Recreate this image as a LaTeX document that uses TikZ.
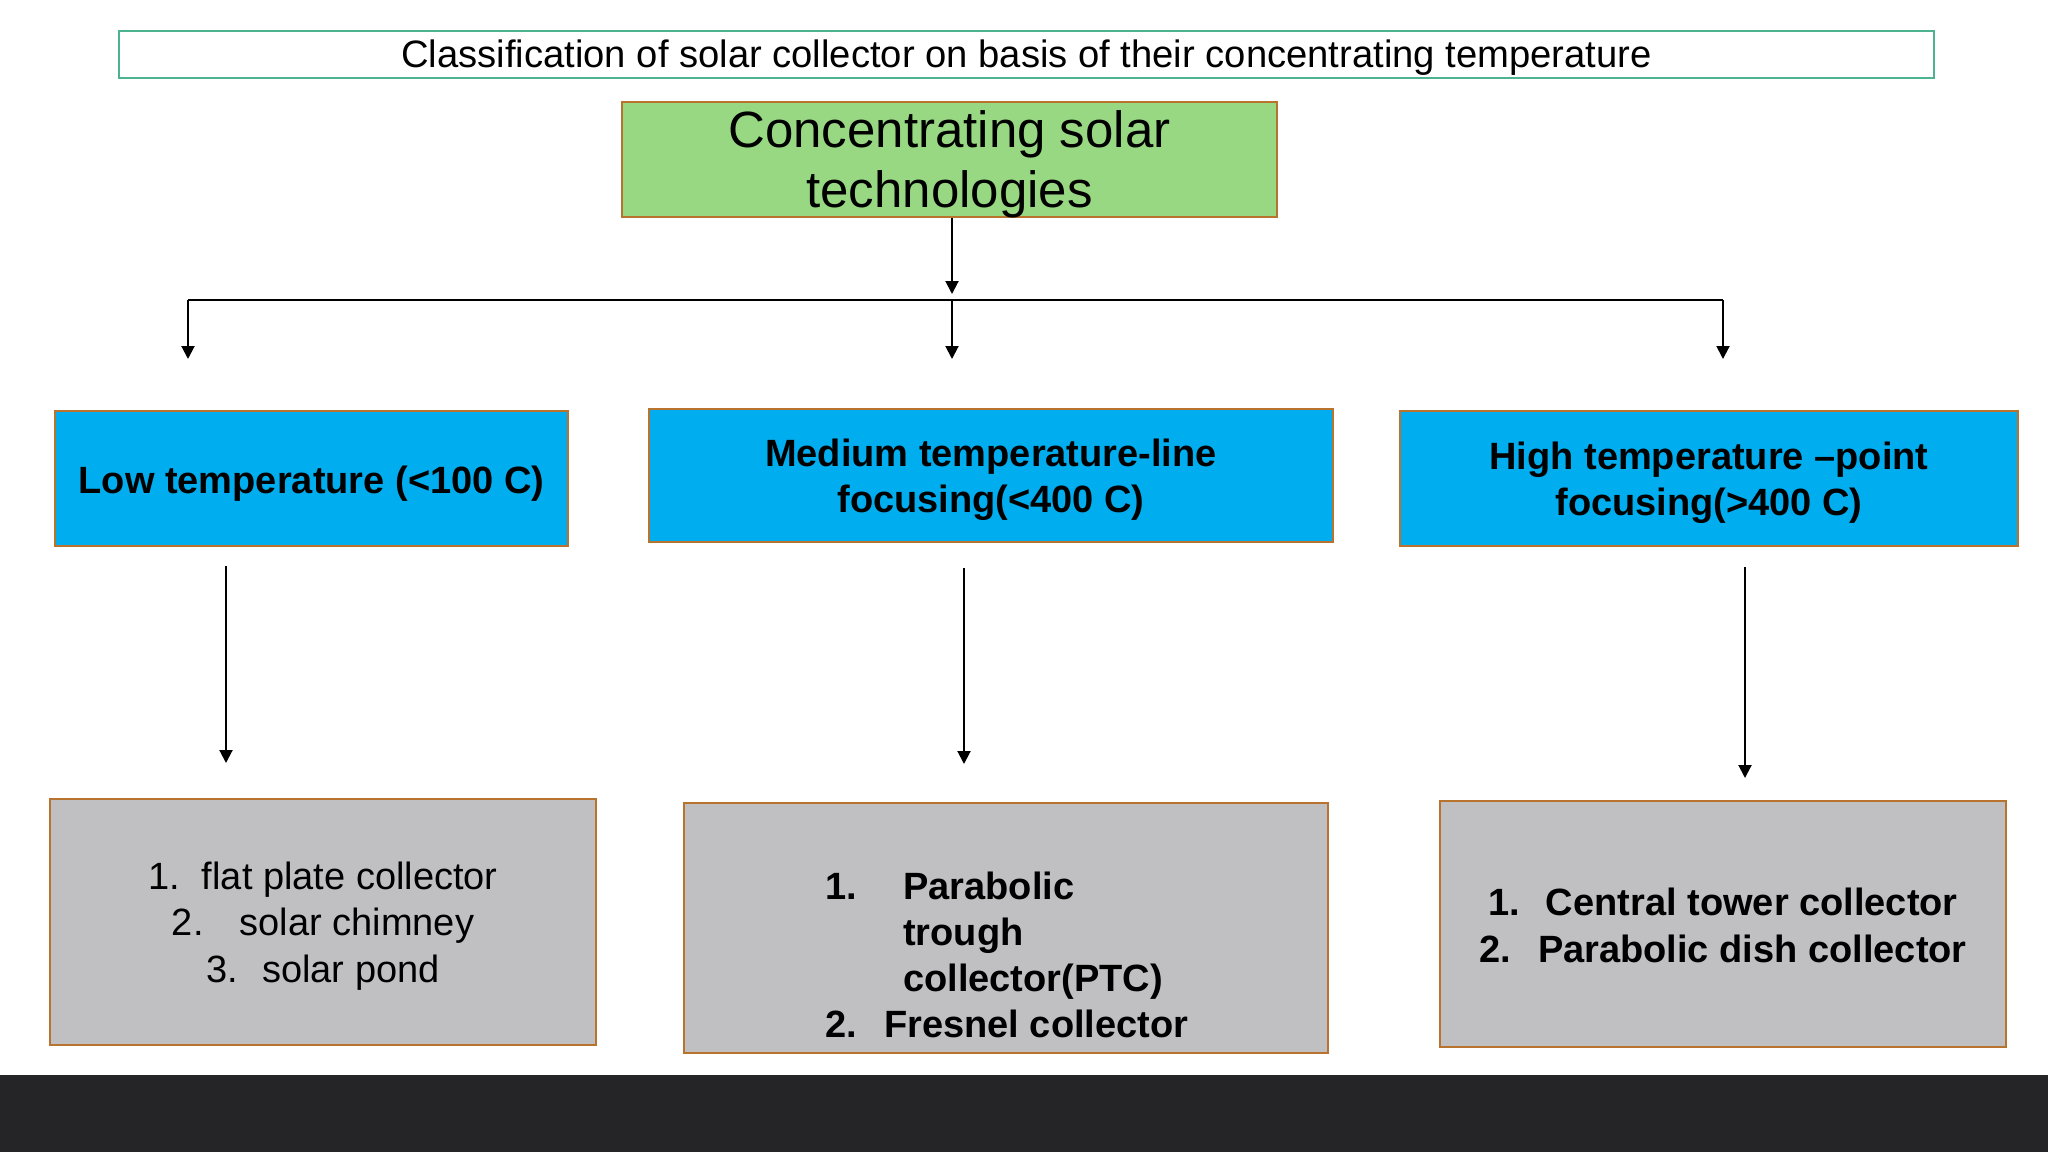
\documentclass[tikz,border=0pt]{standalone}
\usepackage{fontspec}
\setmainfont{Liberation Sans}
\usetikzlibrary{arrows.meta}
\definecolor{titleborder}{HTML}{4DB38F}
\definecolor{boxborder}{HTML}{B8732F}
\definecolor{greenfill}{HTML}{98D883}
\definecolor{bluefill}{HTML}{00AEEF}
\definecolor{grayfill}{HTML}{C0BFC2}
\definecolor{darkband}{HTML}{252427}
\tikzset{
  box/.style={draw=boxborder, line width=2.5pt, inner sep=0pt},
  txt/.style={inner sep=0pt, align=center},
  bluetxt/.style={txt, font=\fontsize{38}{46}\selectfont\bfseries},
  graytxt/.style={txt, font=\fontsize{38}{46.5}\selectfont},
  conn/.style={line width=2pt, draw=black},
  arr/.style={conn, -{Triangle[length=13pt,width=13pt]}}
}
\begin{document}
\begin{tikzpicture}[x=1pt,y=-1pt]
\useasboundingbox (0,0) rectangle (2048,1152);
\fill[white] (0,0) rectangle (2048,1152);
\fill[darkband] (0,1075) rectangle (2048,1152);

% title
\node[draw=titleborder, line width=2pt, minimum width=1815pt, minimum height=47pt, inner sep=0pt] (title) at (1026.5,54.5) {};
\node[txt, font=\fontsize{38.2}{45}\selectfont] (titlet) at ([yshift=-3pt]title.center)
  {Classification of solar collector on basis of their concentrating temperature};

% root
\node[box, fill=greenfill, minimum width=655pt, minimum height=115pt] (cst) at (949.5,159.5) {};
\node[txt, font=\fontsize{51}{60}\selectfont] (cstt) at ([yshift=-4.5pt]cst.center)
  {Concentrating solar\\technologies};

% category boxes
\node[box, fill=bluefill, minimum width=513pt, minimum height=135pt] (low) at (311.5,478.5) {};
\node[bluetxt] (lowt) at ([yshift=-5pt]low.center) {Low temperature (<100 C)};
\node[box, fill=bluefill, minimum width=684pt, minimum height=133pt] (med) at (991,475.5) {};
\node[bluetxt] (medt) at ([yshift=-4.5pt]med.center) {Medium temperature-line\\focusing(<400 C)};
\node[box, fill=bluefill, minimum width=618pt, minimum height=135pt] (high) at (1709,478.5) {};
\node[bluetxt] (hight) at ([yshift=-4pt]high.center) {High temperature –point\\focusing(>400 C)};

% example boxes
\node[box, fill=grayfill, minimum width=546pt, minimum height=246pt] (lowex) at (323,922) {};
\node[graytxt] (lowext) at ([yshift=-4pt]lowex.center)
  {1.\hspace{22pt}flat plate collector\\2.\hspace{36pt}solar chimney\\3.\hspace{24pt}solar pond};
\node[box, fill=grayfill, minimum width=644pt, minimum height=250pt] (medex) at (1006,928) {};
\node[font=\fontsize{38}{46}\selectfont\bfseries, align=left, inner sep=0pt, anchor=north west]
  (medext) at (825,871.5)
  {\makebox[78pt][l]{1.}Parabolic\\\hspace*{78pt}trough\\\hspace*{78pt}collector(PTC)\\\makebox[59pt][l]{2.}Fresnel collector};
\node[box, fill=grayfill, minimum width=566pt, minimum height=246pt] (highex) at (1723,924) {};
\node[txt, font=\fontsize{38}{47}\selectfont\bfseries] (highext) at ([yshift=-1pt]highex.center)
  {1.\hspace{26pt}Central tower collector\\2.\hspace{27pt}Parabolic dish collector};

% connector points
\coordinate (j) at (952,294);
\coordinate (bl) at (188,300);
\coordinate (bm) at (952,300);
\coordinate (br) at (1723,300);
\coordinate (t1) at (188,359);
\coordinate (t2) at (952,359);
\coordinate (t3) at (1723,359);
\coordinate (s1) at (226,566);
\coordinate (e1) at (226,763);
\coordinate (s2) at (964,568);
\coordinate (e2) at (964,764);
\coordinate (s3) at (1745,567);
\coordinate (e3) at (1745,778);

\draw[arr] (cst.south -| j) -- (j);
\draw[conn] (bl) -- (br);
\draw[arr] (bl) -- (t1);
\draw[arr] (bm) -- (t2);
\draw[arr] (br) -- (t3);
\draw[arr] (s1) -- (e1);
\draw[arr] (s2) -- (e2);
\draw[arr] (s3) -- (e3);
\end{tikzpicture}
\end{document}
